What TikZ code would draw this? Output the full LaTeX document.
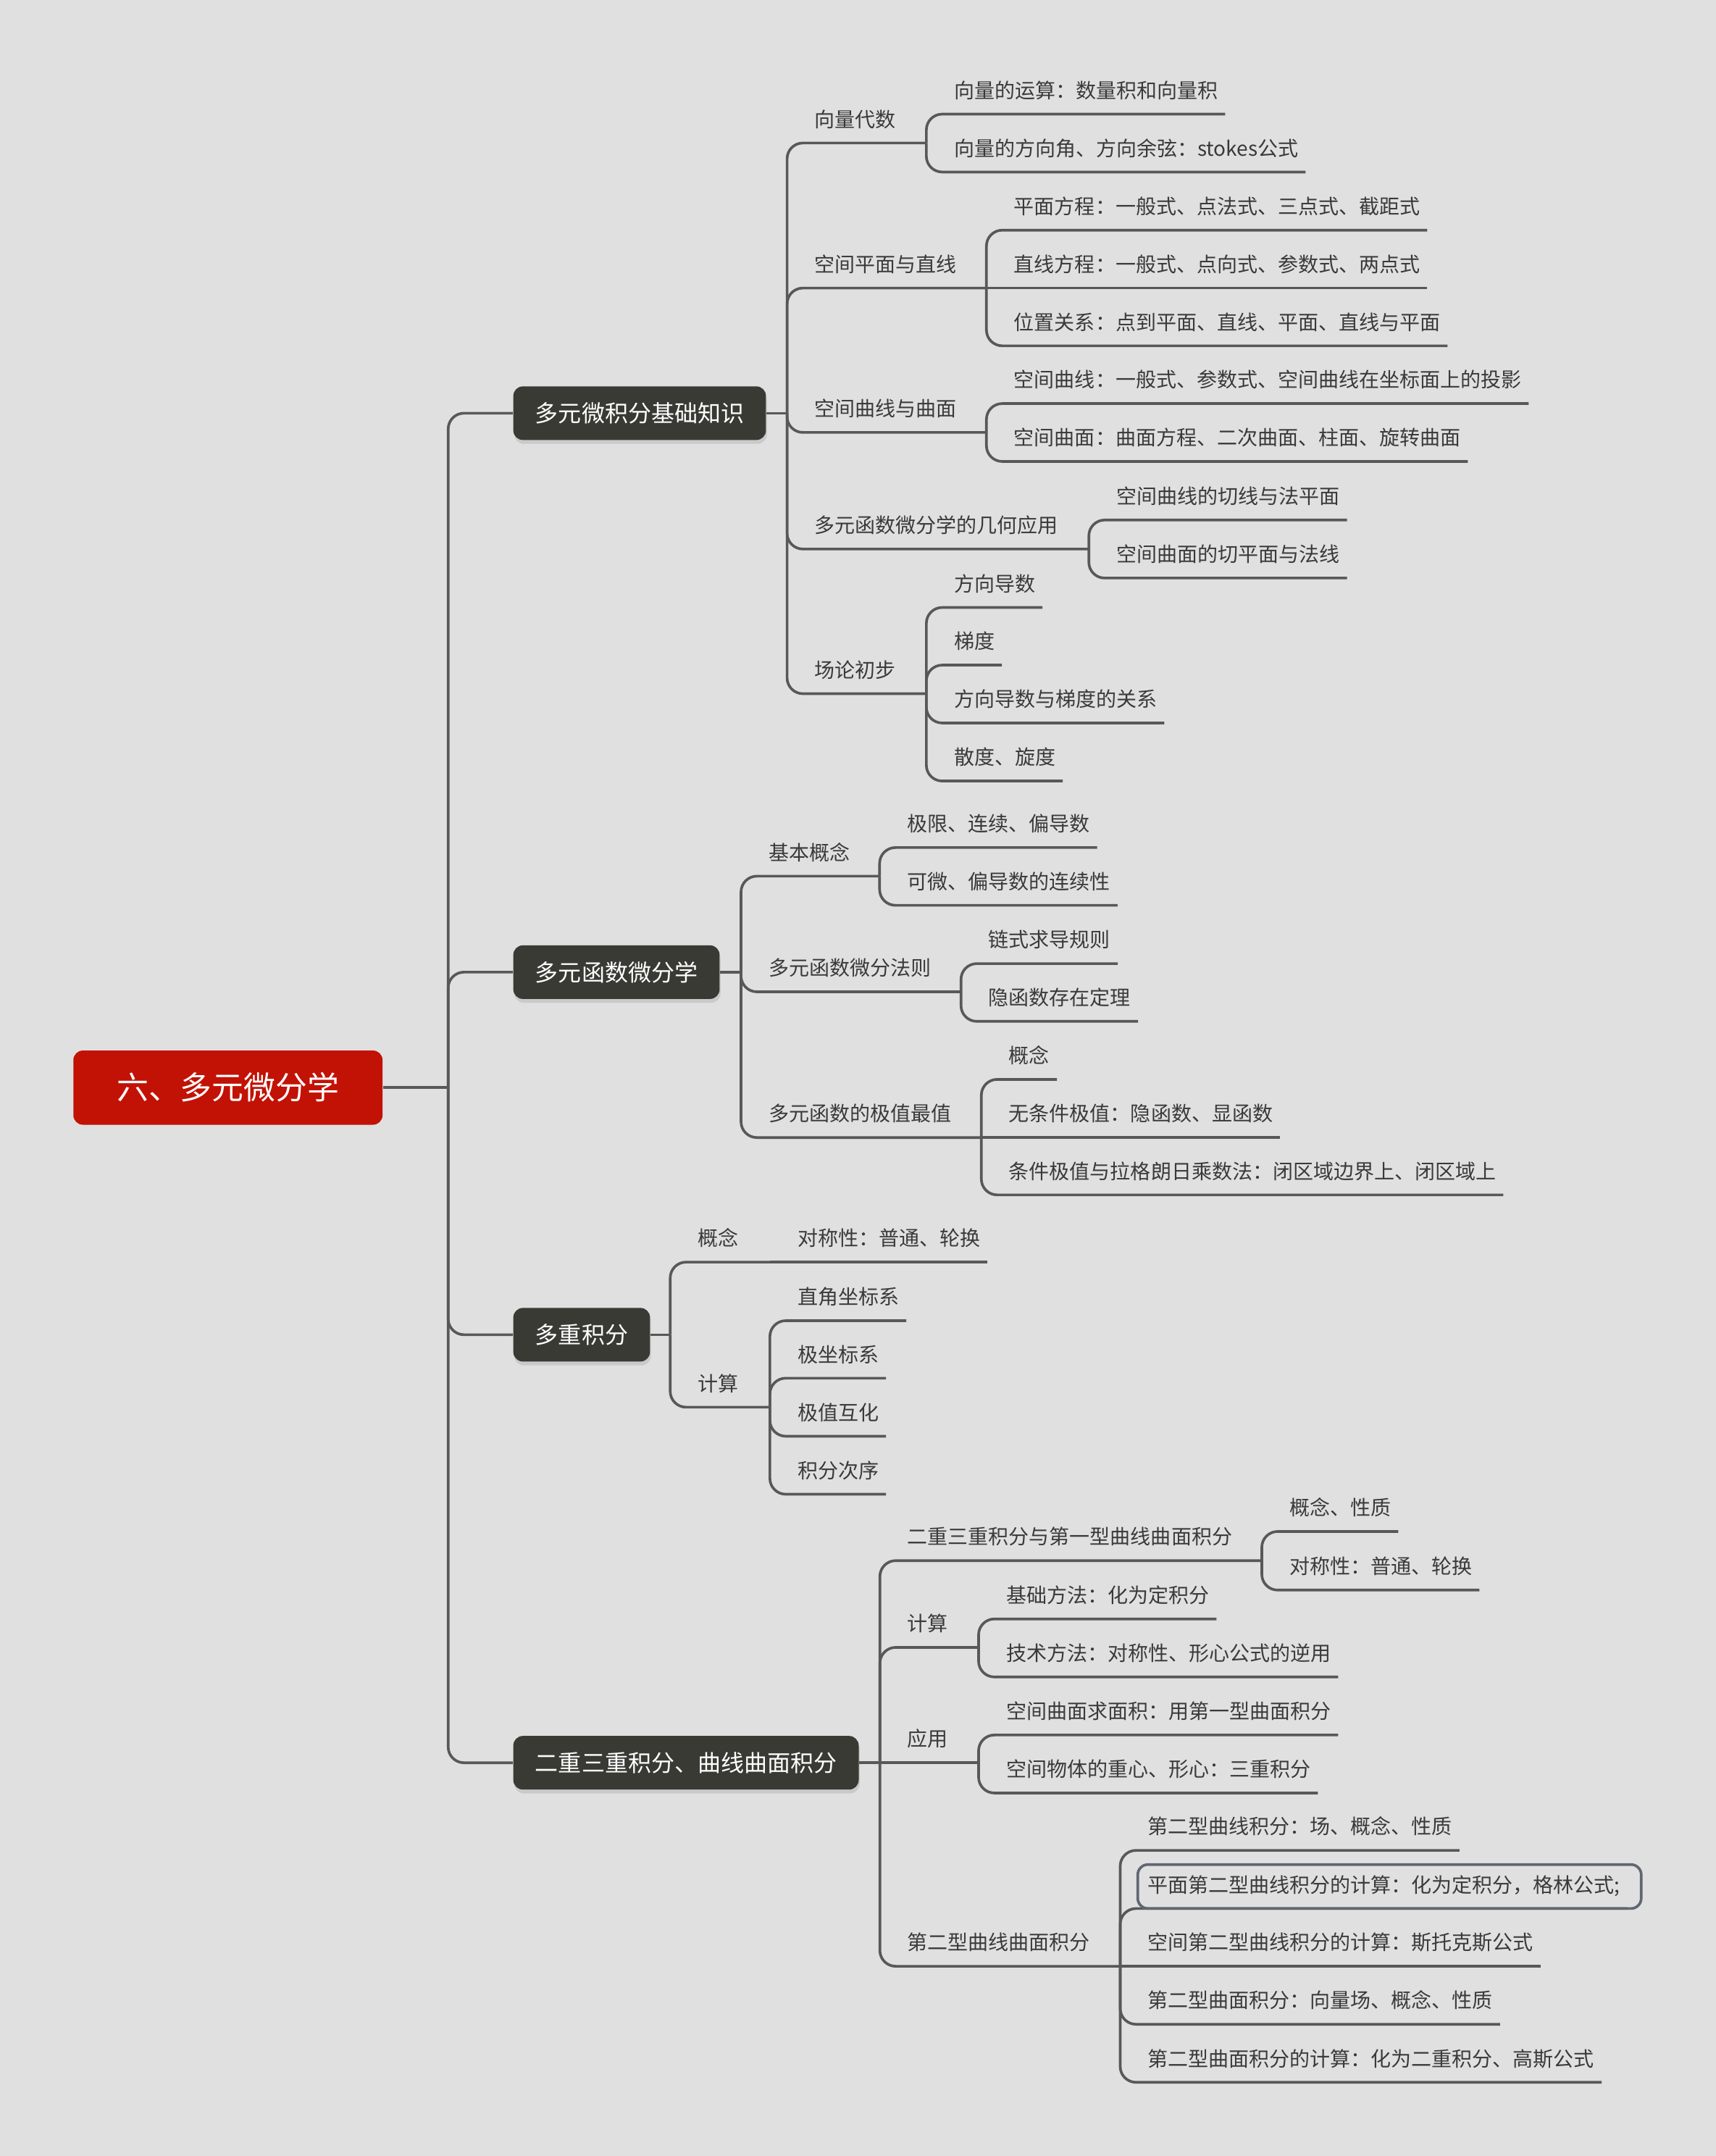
\documentclass[tikz,border=0pt]{standalone}
\usepackage{fontspec}
\newfontfamily\cjk{Noto Sans CJK SC}
\usetikzlibrary{shadows}
\definecolor{bgc}{RGB}{224,224,224}
\definecolor{linec}{RGB}{88,88,88}
\definecolor{txtc}{RGB}{58,58,58}
\definecolor{boxc}{RGB}{58,58,53}
\definecolor{rootc}{RGB}{194,18,5}
\definecolor{hlc}{RGB}{96,103,114}
\begin{document}
\begin{tikzpicture}[x=0.02cm,y=-0.02cm,
 conn/.style={draw=linec,line width=1.1pt,rounded corners=0.23cm},
 topic/.style={anchor=south west,xshift=-0.035cm,inner xsep=0.1cm,inner ysep=0pt,text height=0.3cm,text depth=0.228cm,text=txtc,font=\cjk\fontsize{8.4pt}{10pt}\selectfont},
 mainbox/.style={anchor=west,fill=boxc,text=white,rounded corners=0.14cm,inner xsep=0.32cm,inner ysep=0pt,minimum height=0.78cm,text height=8.45pt,text depth=1.15pt,font=\cjk\fontsize{9.6pt}{11pt}\selectfont,drop shadow={opacity=0.22,shadow xshift=0.4pt,shadow yshift=-1.6pt}},
 rootbox/.style={anchor=west,fill=rootc,text=white,rounded corners=0.14cm,inner xsep=0.632cm,inner ysep=0pt,minimum height=1.08cm,text height=11.6pt,text depth=1.6pt,font=\cjk\fontsize{13.15pt}{15pt}\selectfont},
 hl/.style={draw=hlc,line width=1.1pt,rounded corners=0.15cm}
]
\fill[bgc] (0,0) rectangle (1248,1568);
\useasboundingbox (0,0) rectangle (1248,1568);

% root and main branches
\node[rootbox] (root) at (53,791) {六、多元微分学};
\node[mainbox] (n1) at (373,300.5) {多元微积分基础知识};
\node[mainbox] (n2) at (373,707) {多元函数微分学};
\node[mainbox] (n3) at (373,970.7) {多重积分};
\node[mainbox] (n4) at (373,1282) {二重三重积分、曲线曲面积分};
\coordinate (rj) at (326,791);

% section 1
\coordinate (j1) at (572.5,300.5);
\node[topic] (a1) at (589,104) {向量代数};
\coordinate (ja1) at (673.8,104);
\node[topic] (a11) at (690.3,83) {向量的运算：数量积和向量积};
\node[topic] (a12) at (690.3,125.1) {向量的方向角、方向余弦：stokes公式};
\node[topic] (a2) at (589,209.5) {空间平面与直线};
\coordinate (ja2) at (717.5,209.5);
\node[topic] (a21) at (734,167.4) {平面方程：一般式、点法式、三点式、截距式};
\node[topic] (a22) at (734,209.5) {直线方程：一般式、点向式、参数式、两点式};
\node[topic] (a23) at (734,251.5) {位置关系：点到平面、直线、平面、直线与平面};
\node[topic] (a3) at (589,314.5) {空间曲线与曲面};
\coordinate (ja3) at (717.5,314.5);
\node[topic] (a31) at (734,293.5) {空间曲线：一般式、参数式、空间曲线在坐标面上的投影};
\node[topic] (a32) at (734,335.6) {空间曲面：曲面方程、二次曲面、柱面、旋转曲面};
\node[topic] (a4) at (589,399.3) {多元函数微分学的几何应用};
\coordinate (ja4) at (792,399.3);
\node[topic] (a41) at (808.5,378.2) {空间曲线的切线与法平面};
\node[topic] (a42) at (808.5,420.4) {空间曲面的切平面与法线};
\node[topic] (a5) at (589,504.5) {场论初步};
\coordinate (ja5) at (673.8,504.5);
\node[topic] (a51) at (690.3,441.8) {方向导数};
\node[topic] (a52) at (690.3,483.7) {梯度};
\node[topic] (a53) at (690.3,525.8) {方向导数与梯度的关系};
\node[topic] (a54) at (690.3,568) {散度、旋度};

% section 2
\coordinate (j2) at (539,707);
\node[topic] (b1) at (555.5,637.2) {基本概念};
\coordinate (jb1) at (639.8,637.2);
\node[topic] (b11) at (656.3,616.4) {极限、连续、偏导数};
\node[topic] (b12) at (656.3,658.4) {可微、偏导数的连续性};
\node[topic] (b2) at (555.5,721.3) {多元函数微分法则};
\coordinate (jb2) at (699,721.3);
\node[topic] (b21) at (715.5,700.8) {链式求导规则};
\node[topic] (b22) at (715.5,742.8) {隐函数存在定理};
\node[topic] (b3) at (555.5,827.3) {多元函数的极值最值};
\coordinate (jb3) at (713.8,827.3);
\node[topic] (b31) at (730.3,785) {概念};
\node[topic] (b32) at (730.3,827.3) {无条件极值：隐函数、显函数};
\node[topic] (b33) at (730.3,869) {条件极值与拉格朗日乘数法：闭区域边界上、闭区域上};

% section 3
\coordinate (j3) at (487.5,970.7);
\node[topic] (c1) at (504,917.9) {概念};
\coordinate (jc1) at (560,917.9);
\node[topic] (c11) at (576.5,917.9) {对称性：普通、轮换};
\node[topic] (c2) at (504,1023.4) {计算};
\coordinate (jc2) at (560,1023.4);
\node[topic] (c21) at (576.5,960.5) {直角坐标系};
\node[topic] (c22) at (576.5,1002.3) {极坐标系};
\node[topic] (c23) at (576.5,1044.5) {极值互化};
\node[topic] (c24) at (576.5,1086.7) {积分次序};

% section 4
\coordinate (j4) at (640,1282);
\node[topic] (d1) at (656.5,1135) {二重三重积分与第一型曲线曲面积分};
\coordinate (jd1) at (917.8,1135);
\node[topic] (d11) at (934.3,1113.8) {概念、性质};
\node[topic] (d12) at (934.3,1156.4) {对称性：普通、轮换};
\node[topic] (d2) at (656.5,1198.1) {计算};
\coordinate (jd2) at (711.8,1198.1);
\node[topic] (d21) at (728.3,1177.4) {基础方法：化为定积分};
\node[topic] (d22) at (728.3,1219.6) {技术方法：对称性、形心公式的逆用};
\node[topic] (d3) at (656.5,1282) {应用};
\coordinate (jd3) at (711.8,1282);
\node[topic] (d31) at (728.3,1261.8) {空间曲面求面积：用第一型曲面积分};
\node[topic] (d32) at (728.3,1304) {空间物体的重心、形心：三重积分};
\node[topic] (d4) at (656.5,1430) {第二型曲线曲面积分};
\coordinate (jd4) at (814.8,1430);
\node[topic] (d41) at (831.3,1345.7) {第二型曲线积分：场、概念、性质};
\node[topic] (d42) at (831.3,1388) {平面第二型曲线积分的计算：化为定积分，格林公式;};
\node[topic] (d43) at (831.3,1430) {空间第二型曲线积分的计算：斯托克斯公式};
\node[topic] (d44) at (831.3,1472.2) {第二型曲面积分：向量场、概念、性质};
\node[topic] (d45) at (831.3,1514.4) {第二型曲面积分的计算：化为二重积分、高斯公式};

% connectors: trunk
\draw[conn] (root.east) -- (rj);
\foreach \n in {n1,n2,n3,n4} \draw[conn] (rj) |- (\n.west);
\draw[conn] (n1.east) -- (j1);
\draw[conn] (n2.east) -- (j2);
\draw[conn] (n3.east) -- (j3);
\draw[conn] (n4.east) -- (j4);

% section 1 connectors
\foreach \c in {a1,a2,a3,a4,a5} \draw[conn] (j1) |- (j\c);
\draw[conn] (ja1) |- (a11.south east);
\draw[conn] (ja1) |- (a12.south east);
\draw[conn] (ja2) |- (a21.south east);
\draw[conn] (ja2) -- (a22.south east);
\draw[conn] (ja2) |- (a23.south east);
\draw[conn] (ja3) |- (a31.south east);
\draw[conn] (ja3) |- (a32.south east);
\draw[conn] (ja4) |- (a41.south east);
\draw[conn] (ja4) |- (a42.south east);
\foreach \l in {a51,a52,a53,a54} \draw[conn] (ja5) |- (\l.south east);

% section 2 connectors
\foreach \c in {b1,b2,b3} \draw[conn] (j2) |- (j\c);
\draw[conn] (jb1) |- (b11.south east);
\draw[conn] (jb1) |- (b12.south east);
\draw[conn] (jb2) |- (b21.south east);
\draw[conn] (jb2) |- (b22.south east);
\draw[conn] (jb3) |- (b31.south east);
\draw[conn] (jb3) -- (b32.south east);
\draw[conn] (jb3) |- (b33.south east);

% section 3 connectors
\foreach \c in {c1,c2} \draw[conn] (j3) |- (j\c);
\draw[conn] (jc1) -- (c11.south east);
\foreach \l in {c21,c22,c23,c24} \draw[conn] (jc2) |- (\l.south east);

% section 4 connectors
\draw[conn] (j4) |- (jd1);
\draw[conn] (j4) |- (jd2);
\draw[conn] (j4) -- (jd3);
\draw[conn] (j4) |- (jd4);
\draw[conn] (jd1) |- (d11.south east);
\draw[conn] (jd1) |- (d12.south east);
\draw[conn] (jd2) |- (d21.south east);
\draw[conn] (jd2) |- (d22.south east);
\draw[conn] (jd3) |- (d31.south east);
\draw[conn] (jd3) |- (d32.south east);
\draw[conn] (jd4) |- (d41.south east);
\draw[conn] (jd4) |- (d42.south east);
\draw[conn] (jd4) -- (d43.south east);
\draw[conn] (jd4) |- (d44.south east);
\draw[conn] (jd4) |- (d45.south east);

% highlighted topic frame
\draw[hl] ([xshift=-0.04cm]d42.south west) rectangle ([xshift=0.2cm,yshift=0.64cm]d42.south east);
\end{tikzpicture}
\end{document}
